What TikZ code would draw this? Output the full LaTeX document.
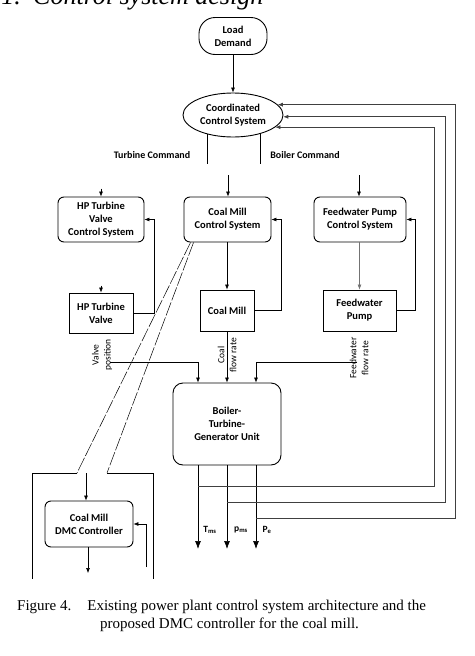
\documentclass[tikz,border=0pt]{standalone}
\usepackage{fontspec}
\setmainfont{Liberation Serif}
\newfontfamily\diafont{Carlito}
\usetikzlibrary{shapes.geometric,arrows.meta}

\begin{document}
\begin{tikzpicture}[x=1pt, y=-1pt,
  box/.style={draw, line width=0.9pt, align=center, inner sep=1pt, font=\diafont\bfseries\fontsize{10.5}{13}\selectfont},
  ctrl/.style={box, rounded corners=6pt},
  lbl/.style={font=\diafont\bfseries\fontsize{10}{12}\selectfont},
  vlbl/.style={rotate=90, align=center, inner sep=0pt, font=\diafont\fontsize{9.5}{12}\selectfont},
  sig/.style={line width=0.6pt, -{Latex[length=5pt, width=4pt]}},
  outsig/.style={line width=0.7pt, -{Latex[length=8pt, width=6pt]}},
  zoomline/.style={line width=0.5pt, dash pattern=on 14pt off 2pt}]
\useasboundingbox (0,0) rectangle (474,656);
\clip (0,0) rectangle (474,656);

\node[anchor=base east, inner sep=0pt, font=\itshape\fontsize{26}{30}\selectfont] (secno) at (21,4) {01.};
\node[anchor=base west, inner sep=0pt, font=\itshape\fontsize{26}{30}\selectfont] (sec) at (33,4) {Control system design};

% top of the hierarchy
\node[box, rounded corners=16pt, minimum width=68pt, minimum height=37pt] (load) at (233,36) {Load\\Demand};
\node[box, ellipse, inner sep=0pt, minimum width=100pt, minimum height=44pt] (ccs) at (233,115) {Coordinated\\Control System};
\draw[sig] (load) -- (ccs);

\coordinate (tcmd) at (207,164);
\coordinate (bcmd) at (260,164);
\draw[line width=0.6pt] (ccs.216 -| tcmd) -- (tcmd);
\draw[line width=0.6pt] (ccs.-35 -| bcmd) -- (bcmd);
\node[lbl] (tlbl) at (152,155) {Turbine Command};
\node[lbl] (blbl) at (305,155) {Boiler Command};

% control systems
\node[ctrl, minimum width=86pt, minimum height=45pt] (hpcs) at (101,219.5) {HP Turbine\\Valve\\Control System};
\node[ctrl, minimum width=87pt, minimum height=45pt] (cmcs) at (227.5,219.5) {Coal Mill\\Control System};
\node[ctrl, minimum width=92pt, minimum height=45pt] (fwcs) at (360,219.5) {Feedwater Pump\\Control System};

\coordinate (cmin) at (228,175);
\coordinate (fwin) at (359,175);
\draw[sig] ([yshift=8pt]hpcs.north) -- (hpcs.north);
\draw[sig] (cmin) -- (cmin |- cmcs.north);
\draw[sig] (fwin) -- (fwin |- fwcs.north);

% actuators
\node[box, minimum width=64pt, minimum height=40pt] (hpv) at (101,313) {HP Turbine\\Valve};
\node[box, minimum width=54pt, minimum height=41pt] (cm) at (227,310.5) {Coal Mill};
\node[box, minimum width=73pt, minimum height=41pt] (fwp) at (359.5,310.5) {Feedwater\\Pump};

\draw[sig] ([yshift=7pt]hpv.north) -- (hpv.north);
\draw[sig] (cmcs.south -| cm) -- (cm);
\draw[sig, black!55] (fwcs.south -| fwp) -- (fwp);

\draw[sig] (hpv.east) -- ++(21,0) |- (hpcs.east);
\draw[sig] (cm.east) -- ++(27,0) |- (cmcs.east);
\draw[sig] (fwp.east) -- ++(19,0) |- (fwcs.east);

% plant
\node[box, rounded corners=10pt, minimum width=108pt, minimum height=82pt] (btg) at (227,424) {Boiler-\\Turbine-\\Generator Unit};

\node[vlbl] (vpos) at (102,355) {Valve\\position};
\node[vlbl] (cflow) at (227,355) {Coal\\flow rate};
\node[vlbl] (fflow) at (359,358) {Feedwater\\flow rate};

\coordinate (vp) at (110,362);
\coordinate (fw) at (357,362);
\draw[sig] (vp) -| ([xshift=-29pt]btg.north);
\draw[sig] (cm.south) -- (btg.north -| cm);
\draw[sig] (fw) -| ([xshift=29pt]btg.north);

% outputs and feedback
\coordinate (tms) at (198,549);
\coordinate (pms) at (227,549);
\coordinate (pe) at (256,549);
\draw[outsig] (btg.south -| tms) -- (tms);
\draw[outsig] (btg.south -| pms) -- (pms);
\draw[outsig] (btg.south -| pe) -- (pe);
\node[lbl, font=\diafont\bfseries\fontsize{9.5}{11}\selectfont] (tmslbl) at (210,530) {T\textsubscript{ms}};
\node[lbl, font=\diafont\bfseries\fontsize{9.5}{11}\selectfont] (pmslbl) at (241,530) {p\textsubscript{ms}};
\node[lbl, font=\diafont\bfseries\fontsize{9.5}{11}\selectfont] (pelbl) at (267,530) {P\textsubscript{e}};

\coordinate (r1) at (434,486);
\coordinate (r2) at (445,502);
\coordinate (r3) at (455,518);
\draw[sig, black!75] (r1 -| tms) -- (r1) |- (ccs.-16);
\draw[sig, black!75] (r2 -| pms) -- (r2) |- (ccs.-2);
\draw[sig, black!75] (r3 -| pe) -- (r3) |- (ccs.13);

% zoom on the coal mill controller
\coordinate (zl) at (77,473);
\coordinate (zr) at (107,473);
\draw[zoomline] ([xshift=7pt]cmcs.south west) -- (zl);
\draw[zoomline] ([xshift=10pt]cmcs.south west) -- (zr);
\draw[line width=0.6pt] (zl) -- (32,473) -- (32,579);
\draw[line width=0.6pt] (zr) -- (153,473) -- (153,579);

\node[ctrl, minimum width=88pt, minimum height=46pt] (dmc) at (89,524) {Coal Mill\\DMC Controller};
\coordinate (dmcout) at (88,573);
\coordinate (dmcfb) at (146,567);
\draw[sig] ([xshift=-3pt]dmc.north |- zl) -- ([xshift=-3pt]dmc.north);
\draw[sig] (dmc.south -| dmcout) -- (dmcout);
\draw[sig] (dmcfb) |- (dmc.east);

% caption
\node[anchor=base west, inner sep=0pt, font=\fontsize{15}{18}\selectfont] (cap1) at (17,610) {Figure 4.\hspace{16pt}Existing power plant control system architecture and the};
\node[anchor=base west, inner sep=0pt, font=\fontsize{15}{18}\selectfont] (cap2) at (100,628) {proposed DMC controller for the coal mill.};

\end{tikzpicture}
\end{document}
